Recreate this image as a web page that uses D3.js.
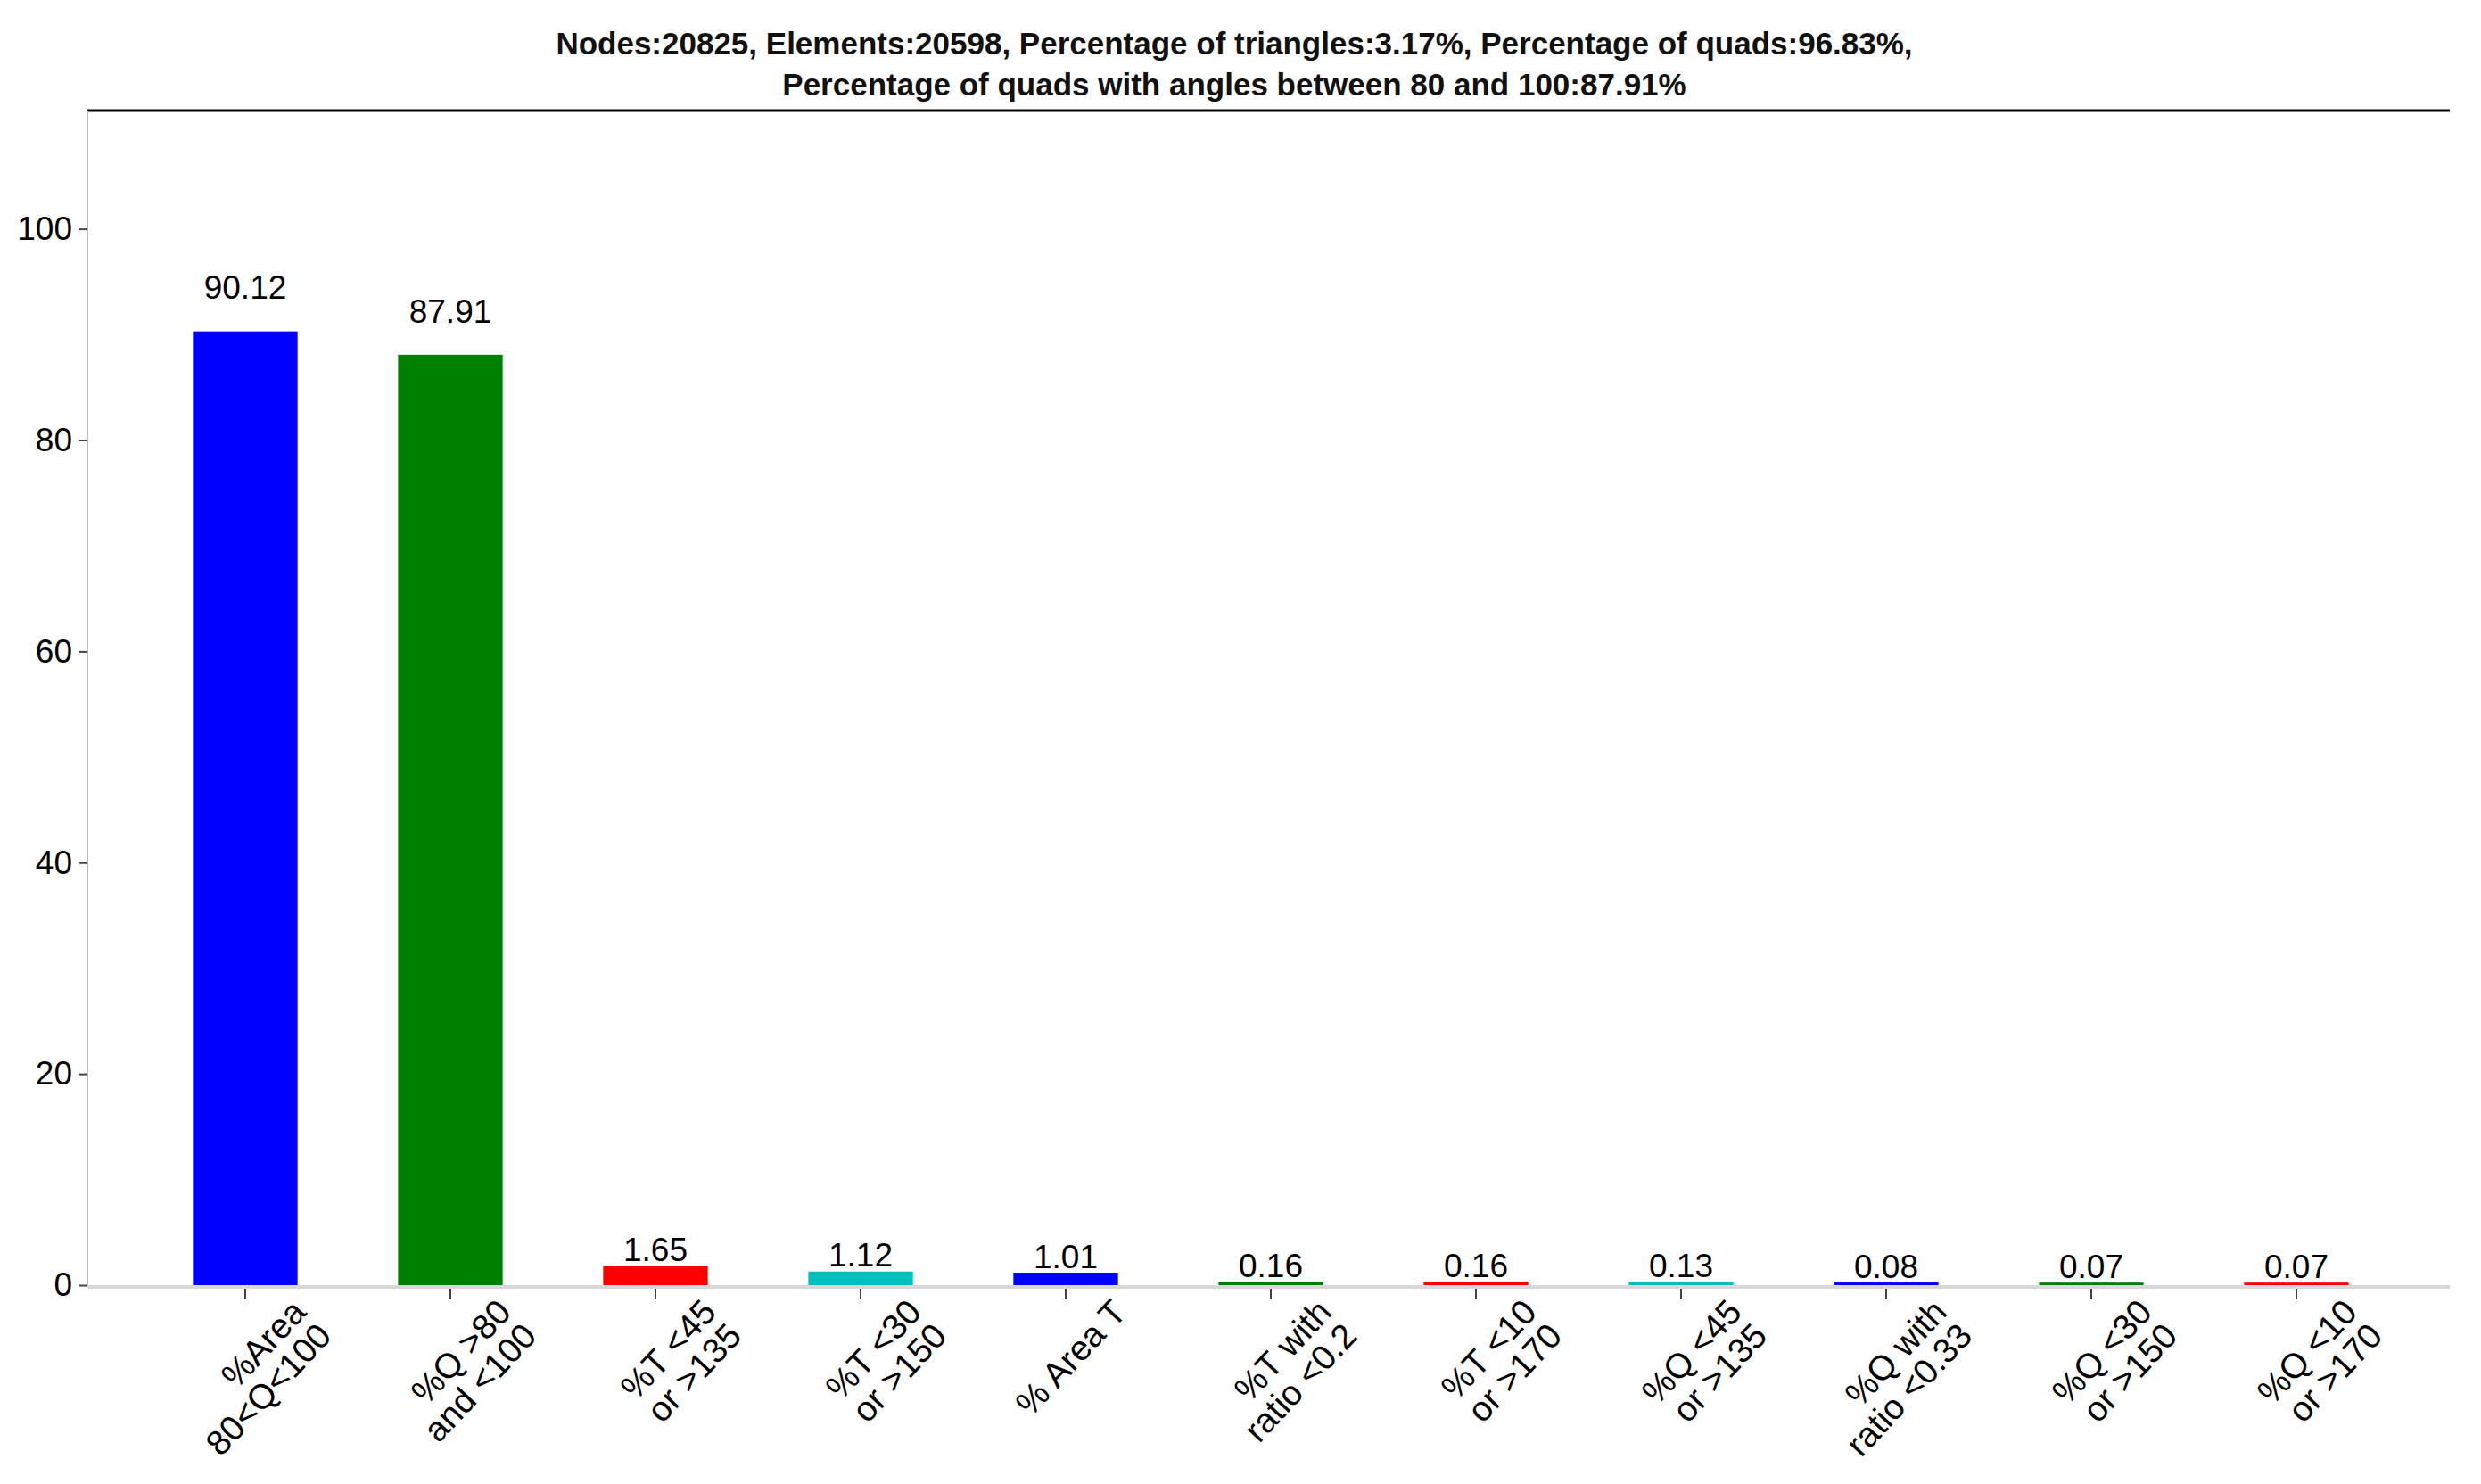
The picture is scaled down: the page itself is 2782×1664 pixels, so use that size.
<!DOCTYPE html>
<html><head><meta charset="utf-8">
<script src="https://cdn.jsdelivr.net/npm/d3@7"></script>
<style>body{margin:0;background:#fff}text{font-family:"Liberation Sans",Arial,sans-serif}</style>
</head><body><svg id="c" width="2782" height="1664"></svg>
<script>
const categories = [["%Area","80<Q<100"],["%Q >80","and <100"],["%T <45","or >135"],["%T <30","or >150"],["% Area T",""],["%T with","ratio <0.2"],["%T <10","or >170"],["%Q <45","or >135"],["%Q with","ratio <0.33"],["%Q <30","or >150"],["%Q <10","or >170"]];
const values = [90.12,87.91,1.65,1.12,1.01,0.16,0.16,0.13,0.08,0.07,0.07];
const colors = ["#0000ff","#008000","#ff0000","#00bfbf","#0000ff","#008000","#ff0000","#00bfbf","#0000ff","#008000","#ff0000"];
const yTicks = [0,20,40,60,80,100];
const titleLines = ["Nodes:20825, Elements:20598, Percentage of triangles:3.17%, Percentage of quads:96.83%,","Percentage of quads with angles between 80 and 100:87.91%"];

const svg = d3.select("#c");
const L=98,R=2747,T=124,B=1441;
const x = d3.scaleBand().domain(d3.range(values.length)).range([160,2690]).paddingInner(0.49).paddingOuter(0.245);
const y = d3.scaleLinear().domain([0,111.2]).range([B,T]);

svg.selectAll(".t").data(titleLines).join("text").attr("x",1384).attr("y",(d,i)=>61+i*46)
  .attr("text-anchor","middle").attr("font-size",35).attr("font-weight","bold").attr("fill","#111").text(d=>d);

svg.append("line").attr("x1",L).attr("x2",R).attr("y1",T).attr("y2",T).attr("stroke","#000").attr("stroke-width",3);
svg.append("line").attr("x1",L).attr("x2",L).attr("y1",T).attr("y2",B).attr("stroke","#bbb").attr("stroke-width",2);

const ya = svg.append("g").attr("transform",`translate(${L},0)`).call(d3.axisLeft(y).tickValues(yTicks).tickSize(9).tickPadding(8));
ya.select(".domain").remove();
ya.selectAll("text").attr("font-size",37).attr("fill","#000");
ya.selectAll("line").attr("stroke","#444").attr("stroke-width",2);

svg.selectAll(".bar").data(values).join("rect").attr("x",(d,i)=>x(i)).attr("width",x.bandwidth())
  .attr("y",d=>y(d)-2).attr("height",d=>B-y(d)+2).attr("fill",(d,i)=>colors[i]);

svg.append("line").attr("x1",L).attr("x2",R).attr("y1",B+2).attr("y2",B+2).attr("stroke","#d8d8d8").attr("stroke-width",4);
svg.selectAll(".xt").data(values).join("line").attr("x1",(d,i)=>x(i)+x.bandwidth()/2).attr("x2",(d,i)=>x(i)+x.bandwidth()/2)
  .attr("y1",B+4).attr("y2",B+16).attr("stroke","#444").attr("stroke-width",2);

svg.selectAll(".vl").data(values).join("text").attr("x",(d,i)=>x(i)+x.bandwidth()/2).attr("y",d=>y(d*1.03)-7)
  .attr("text-anchor","middle").attr("font-size",37).text(d=>d.toFixed(2));

const xl = svg.selectAll(".xl").data(categories).join("text")
  .attr("transform",(d,i)=>`translate(${x(i)+x.bandwidth()/2+70},${B+32}) rotate(-47)`)
  .attr("text-anchor","end").attr("font-size",39);
xl.each(function(d){
  const t=d3.select(this);
  t.append("tspan").attr("x",0).attr("dy",0).text(d[0]);
  if(d[1]) t.append("tspan").attr("x",0).attr("dy","1.0em").text(d[1]);
});
</script></body></html>
